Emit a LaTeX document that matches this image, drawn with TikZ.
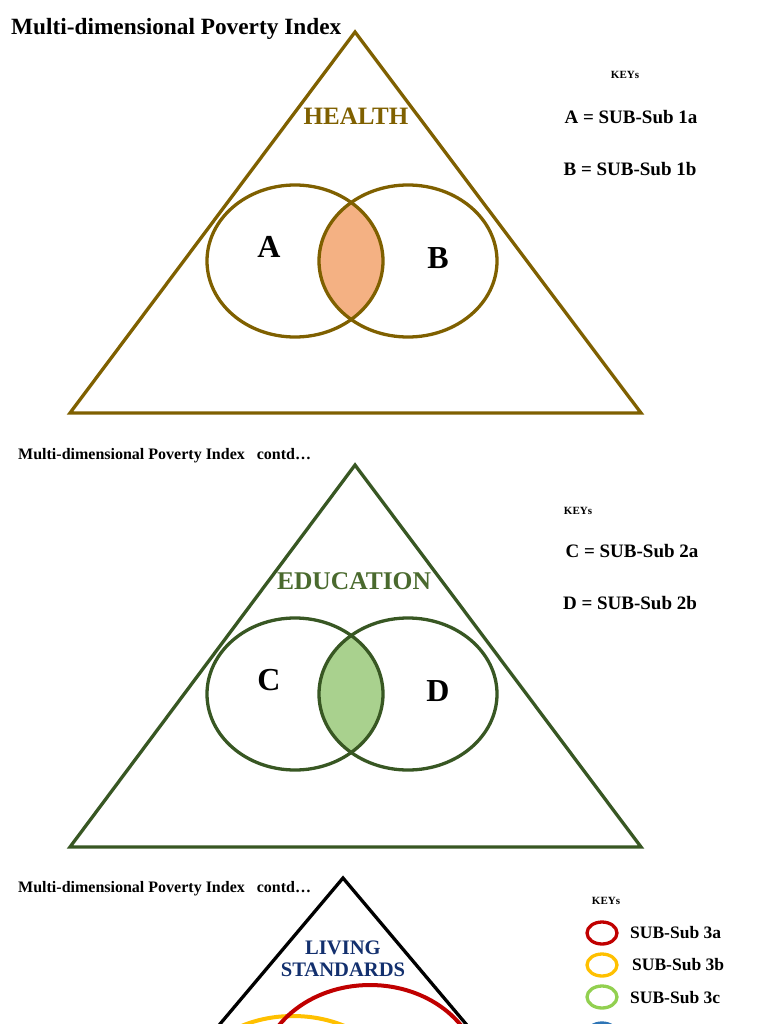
\documentclass[tikz,border=0pt]{standalone}
\usepackage{fontspec}
\setmainfont{Liberation Serif}
\definecolor{hbrown}{HTML}{7F6000}
\definecolor{horange}{HTML}{F4B183}
\definecolor{egreen}{HTML}{385723}
\definecolor{etext}{HTML}{4A6A2E}
\definecolor{efill}{HTML}{A9D18E}
\definecolor{lblue}{HTML}{13306E}
\definecolor{kred}{HTML}{C00000}
\definecolor{kyellow}{HTML}{FFC000}
\definecolor{kgreen}{HTML}{92D050}
\definecolor{kblue}{HTML}{2E75B6}
\begin{document}
\begin{tikzpicture}[x=1pt,y=-1pt,
  tri/.style={line width=3.3pt,line join=miter},
  venn/.style={line width=3.3pt},
  txt/.style={inner sep=0pt,font=\bfseries},
  keyring/.style={line width=3.3pt}]
\useasboundingbox (0,0) rectangle (768,1024);
\clip (0,0) rectangle (768,1024);
% ---------- Section 1: Health ----------
\node[txt,anchor=base west,font=\bfseries\fontsize{23.3}{26}\selectfont] (title) at (11,35) {Multi-dimensional Poverty Index};
\draw[tri,hbrown] (355,32) -- (641,413) -- (70,413) -- cycle;
\begin{scope}
  \clip (295,261) ellipse (88 and 76);
  \fill[horange] (408,261) ellipse (89 and 76);
\end{scope}
\draw[venn,hbrown] (295,261) ellipse (88 and 76);
\draw[venn,hbrown] (408,261) ellipse (89 and 76);
\node[txt,anchor=base,text=hbrown,font=\bfseries\fontsize{25}{28}\selectfont] (health) at (356,125) {HEALTH};
\node[txt,anchor=base,font=\bfseries\fontsize{32}{36}\selectfont] (la) at (269,257) {A};
\node[txt,anchor=base,font=\bfseries\fontsize{32}{36}\selectfont] (lb) at (438,268) {B};
\node[txt,anchor=base,font=\bfseries\fontsize{11}{13}\selectfont] (keys1) at (625,79) {KEYs};
\node[txt,anchor=base,font=\bfseries\fontsize{19}{22}\selectfont] (ka) at (631,124) {A = SUB-Sub 1a};
\node[txt,anchor=base,font=\bfseries\fontsize{19}{22}\selectfont] (kb) at (630,176) {B = SUB-Sub 1b};
% ---------- Section 2: Education ----------
\node[txt,anchor=base west,font=\bfseries\fontsize{16}{19}\selectfont] (title2) at (18,459) {Multi-dimensional Poverty Index\ \ \ contd…};
\draw[tri,egreen] (355,465) -- (641,847) -- (70,847) -- cycle;
\begin{scope}
  \clip (295,694) ellipse (88 and 76);
  \fill[efill] (408,694) ellipse (89 and 76);
\end{scope}
\draw[venn,egreen] (295,694) ellipse (88 and 76);
\draw[venn,egreen] (408,694) ellipse (89 and 76);
\node[txt,anchor=base,text=etext,font=\bfseries\fontsize{25.5}{28}\selectfont] (edu) at (354,589) {EDUCATION};
\node[txt,anchor=base,font=\bfseries\fontsize{32}{36}\selectfont] (lc) at (269,690) {C};
\node[txt,anchor=base,font=\bfseries\fontsize{32}{36}\selectfont] (ld) at (438,701) {D};
\node[txt,anchor=base,font=\bfseries\fontsize{11}{13}\selectfont] (keys2) at (578,514) {KEYs};
\node[txt,anchor=base,font=\bfseries\fontsize{19}{22}\selectfont] (kc) at (632,557) {C = SUB-Sub 2a};
\node[txt,anchor=base,font=\bfseries\fontsize{19}{22}\selectfont] (kd) at (630,609) {D = SUB-Sub 2b};
% ---------- Section 3: Living standards ----------
\node[txt,anchor=base west,font=\bfseries\fontsize{16}{19}\selectfont] (title3) at (18,892) {Multi-dimensional Poverty Index\ \ \ contd…};
\draw[tri,black] (156,1100) -- (343,878) -- (530,1100);
\node[txt,anchor=base,text=lblue,font=\bfseries\fontsize{20.6}{22}\selectfont] (living) at (343,954) {LIVING};
\node[txt,anchor=base,text=lblue,font=\bfseries\fontsize{20.6}{22}\selectfont] (stand) at (343,976) {STANDARDS};
\draw[line width=4pt,kyellow] (293,1086) ellipse (100 and 70);
\draw[line width=4pt,kred] (370,1077) ellipse (110 and 92);
\node[txt,anchor=base,font=\bfseries\fontsize{11}{13}\selectfont] (keys3) at (606,904) {KEYs};
\draw[keyring,kred] (602,933) ellipse (15 and 11);
\draw[keyring,kyellow] (602,965) ellipse (15 and 11);
\draw[keyring,kgreen] (602,997) ellipse (15 and 11);
\draw[keyring,kblue] (602,1034) ellipse (15 and 11);
\node[txt,anchor=base west,font=\bfseries\fontsize{17.5}{20}\selectfont] (k3a) at (630,938) {SUB-Sub 3a};
\node[txt,anchor=base west,font=\bfseries\fontsize{17.5}{20}\selectfont] (k3b) at (632,970) {SUB-Sub 3b};
\node[txt,anchor=base west,font=\bfseries\fontsize{17.5}{20}\selectfont] (k3c) at (630,1003) {SUB-Sub 3c};
\end{tikzpicture}
\end{document}
